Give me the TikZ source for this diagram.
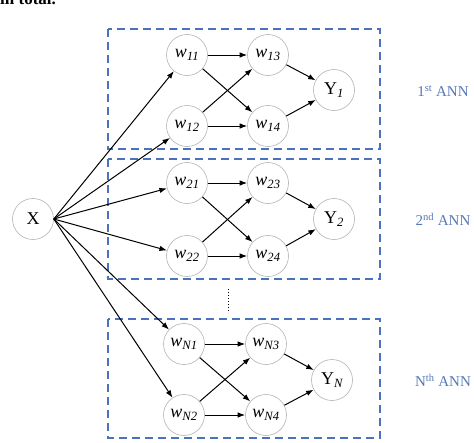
\documentclass[tikz,border=0pt]{standalone}
\usepackage{fontspec}
\setmainfont{Liberation Serif}
\usetikzlibrary{arrows.meta}
\definecolor{annblue}{HTML}{4A72BE}
\definecolor{lblblue}{HTML}{5577B8}
\newcommand{\wsub}[1]{\textit{w}\textsubscript{\itshape #1}}
\begin{document}
\begin{tikzpicture}[x=1pt,y=-1pt,
  neuron/.style={circle,draw=black!30,line width=0.6pt,fill=white,minimum size=41pt,inner sep=0pt,font=\fontsize{18}{18}\selectfont},
  conn/.style={-{Latex[length=7.5pt,width=5.5pt]},line width=1pt,black},
  annbox/.style={draw=annblue,line width=1.4pt,dash pattern=on 8pt off 5pt},
  annlabel/.style={text=lblblue,font=\fontsize{15}{15}\selectfont}]
\useasboundingbox (0,0) rectangle (474,442);
\clip (0,0) rectangle (474,442);
\node[anchor=base west,inner sep=0pt,font=\bfseries\fontsize{17}{17}\selectfont] (cut) at (0,4) {in total.};
% boxes
\draw[annbox] (108,29) rectangle (380,149);
\draw[annbox] (108,159) rectangle (380,279);
\draw[annbox] (108,319) rectangle (380,438);
\node[neuron] (X) at (33,219) {X};
% group 1
\node[neuron] (w11) at (187,55) {\wsub{11}};
\node[neuron] (w12) at (187,126) {\wsub{12}};
\node[neuron] (w13) at (268,55) {\wsub{13}};
\node[neuron] (w14) at (268,126) {\wsub{14}};
\node[neuron] (Y1) at (334,90) {Y\textsubscript{\itshape 1}};
% group 2
\node[neuron] (w21) at (187,183) {\wsub{21}};
\node[neuron] (w22) at (187,256) {\wsub{22}};
\node[neuron] (w23) at (268,183) {\wsub{23}};
\node[neuron] (w24) at (268,256) {\wsub{24}};
\node[neuron] (Y2) at (334,219) {Y\textsubscript{\itshape 2}};
% group N
\node[neuron] (wN1) at (184,344) {\wsub{N1}};
\node[neuron] (wN2) at (184,415) {\wsub{N2}};
\node[neuron] (wN3) at (266,344) {\wsub{N3}};
\node[neuron] (wN4) at (266,415) {\wsub{N4}};
\node[neuron] (YN) at (332,380) {Y\textsubscript{\itshape N}};
% labels
\node[annlabel] (l1) at (443,91) {1\textsuperscript{st} ANN};
\node[annlabel] (l2) at (443,219) {2\textsuperscript{nd} ANN};
\node[annlabel] (l3) at (443,380) {N\textsuperscript{th} ANN};
% dots
\coordinate (d1) at (228,289);
\coordinate (d2) at (228,313);
\draw[line width=1pt,dash pattern=on 1pt off 2pt] (d1) -- (d2);
% connections from X
\foreach \t in {w11,w12,w21,w22,wN1,wN2}
  \draw[conn] (X.east) -- (\t);
% internal
\foreach \g in {1,2,N}{
  \draw[conn] (w\g1) -- (w\g3);
  \draw[conn] (w\g1) -- (w\g4);
  \draw[conn] (w\g2) -- (w\g3);
  \draw[conn] (w\g2) -- (w\g4);
  \draw[conn] (w\g3) -- (Y\g);
  \draw[conn] (w\g4) -- (Y\g);
}
\end{tikzpicture}
\end{document}
